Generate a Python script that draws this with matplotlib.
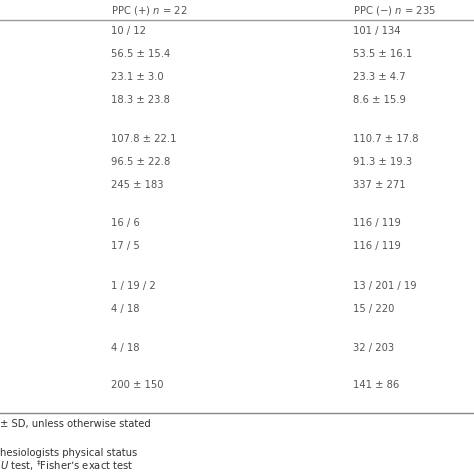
import matplotlib.pyplot as plt

headers = ["PPC (+) $\\it{n}$ = 22", "PPC (\u2212) $\\it{n}$ = 235"]
col_pos = ["10 / 12", "56.5 \u00b1 15.4", "23.1 \u00b1 3.0", "18.3 \u00b1 23.8",
           "107.8 \u00b1 22.1", "96.5 \u00b1 22.8", "245 \u00b1 183",
           "16 / 6", "17 / 5", "1 / 19 / 2", "4 / 18", "4 / 18", "200 \u00b1 150"]
col_neg = ["101 / 134", "53.5 \u00b1 16.1", "23.3 \u00b1 4.7", "8.6 \u00b1 15.9",
           "110.7 \u00b1 17.8", "91.3 \u00b1 19.3", "337 \u00b1 271",
           "116 / 119", "116 / 119", "13 / 201 / 19", "15 / 220", "32 / 203", "141 \u00b1 86"]
row_y = [31, 54, 77, 100, 139, 162, 185, 223, 246, 286, 309, 348, 385]
footnotes = [(0, 424, "\u00b1 SD, unless otherwise stated"),
             (0, 453, "hesiologists physical status"),
             (0, 466, "$\\it{U}$ test, $^{\u2021}$Fisher\u2019s exact test")]

W = H = 474
fig = plt.figure(figsize=(4.74, 4.74), dpi=100)
ax = fig.add_axes([0, 0, 1, 1])
ax.set_xlim(0, W)
ax.set_ylim(H, 0)
ax.axis("off")

txt = "#555555"
fs = 7.2
ax.text(111, 10, headers[0], color=txt, fontsize=fs, va="center")
ax.text(353, 10, headers[1], color=txt, fontsize=fs, va="center")
ax.axhline(20, color="#999999", lw=1.0)
for y, a, b in zip(row_y, col_pos, col_neg):
    ax.text(111, y, a, color=txt, fontsize=fs, va="center")
    ax.text(353, y, b, color=txt, fontsize=fs, va="center")
ax.axhline(413, color="#888888", lw=1.0)
for x, y, s in footnotes:
    ax.text(x, y, s, color="#333333", fontsize=fs, va="center")

fig.savefig("out.png", dpi=100, facecolor="white")
